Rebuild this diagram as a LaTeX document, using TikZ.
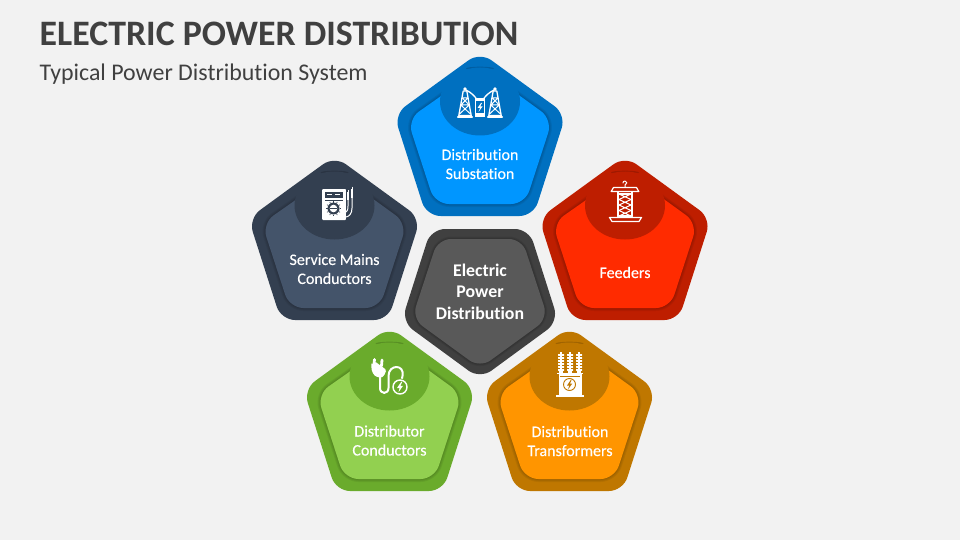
\documentclass[tikz,border=0pt]{standalone}
\usepackage{fontspec}
\setmainfont[Ligatures=NoCommon]{Carlito}
\newfontfamily\lblfont[Ligatures=NoCommon,FakeBold=0.35]{Carlito}
\definecolor{bgc}{HTML}{F2F2F2}
\definecolor{titlec}{HTML}{404040}
\definecolor{blueD}{HTML}{0070C0}\definecolor{blueL}{HTML}{0096FF}
\definecolor{navyD}{HTML}{333F50}\definecolor{navyL}{HTML}{44546A}
\definecolor{redD}{HTML}{BE1E00}\definecolor{redL}{HTML}{FF2B00}
\definecolor{greenD}{HTML}{6AAB2C}\definecolor{greenL}{HTML}{92D050}
\definecolor{orangeD}{HTML}{BF7700}\definecolor{orangeL}{HTML}{FF9500}
\definecolor{greyD}{HTML}{404040}\definecolor{greyL}{HTML}{595959}
\tikzset{
  lbl/.style={text=white,align=center,inner sep=0pt,font=\lblfont\fontsize{16}{19}\selectfont},
  ctr/.style={text=white,align=center,inner sep=0pt,font=\fontsize{17.8}{21.5}\selectfont\bfseries},
  ico/.style={white,line width=1.3pt,line join=round,line cap=round},
}
\newcommand{\petal}[4]{%
  \begin{scope}[shift={(#1,#2)}]
    \fill[#3,rounded corners=14pt] (436.5,83.5) -- (480,52) -- (566,114.5) -- (533.5,216) -- (426.5,216) -- (394,114.5) -- cycle;
    \begin{scope}
      \clip[rounded corners=14pt] (436.5,83.5) -- (480,52) -- (566,114.5) -- (533.5,216) -- (426.5,216) -- (394,114.5) -- cycle;
      \foreach \w in {6,4,2}{\draw[black,opacity=.06,line width=\w pt,rounded corners=14pt] (444,94) -- (480,67) -- (552.5,119.5) -- (525,204) -- (435,204) -- (407.5,119.5) -- cycle;}
    \end{scope}
    \fill[#4,rounded corners=14pt] (444,94) -- (480,67) -- (552.5,119.5) -- (525,204) -- (435,204) -- (407.5,119.5) -- cycle;
    \fill[black,opacity=.16] (480,68.5) ellipse [x radius=14pt,y radius=1.8pt];
    \fill[#3] (480,101.5) ellipse [x radius=40pt,y radius=34pt];
  \end{scope}}
\begin{document}
\begin{tikzpicture}[x=1pt,y=-1pt]
\useasboundingbox (0,0) rectangle (960,540);
\fill[bgc] (0,0) rectangle (960,540);

\node[anchor=west,inner sep=0pt,text=titlec,font=\fontsize{35.8}{40}\selectfont\bfseries] (title) at (39.5,34) {ELECTRIC POWER DISTRIBUTION};
\node[anchor=west,inner sep=0pt,text=titlec,font=\fontsize{23.9}{28}\selectfont] (subtitle) at (39.5,74) {Typical Power Distribution System};

\petal{0}{0}{blueD}{blueL}
\petal{-145.5}{104}{navyD}{navyL}
\petal{145}{104}{redD}{redL}
\petal{-90.5}{275}{greenD}{greenL}
\petal{89.5}{275}{orangeD}{orangeL}

% centre
\fill[greyD,rounded corners=14pt] (480,379) -- (401.5,321.5) -- (431,229) -- (529,229) -- (558.5,321.5) -- cycle;
\foreach \w in {5,3.5,2}{\draw[black,opacity=.06,line width=\w pt,rounded corners=13pt] (480,368) -- (412,318.5) -- (438,239) -- (522,239) -- (548,318.5) -- cycle;}
\fill[greyL,rounded corners=13pt] (480,368) -- (412,318.5) -- (438,239) -- (522,239) -- (548,318.5) -- cycle;

\node[lbl] (n1) at (480,164) {Distribution\\Substation};
\node[lbl] (n2) at (334.5,269) {Service Mains\\Conductors};
\node[lbl] (n3) at (625,272.5) {Feeders};
\node[lbl] (n4) at (389.5,440.5) {Distributor\\Conductors};
\node[lbl] (n5) at (570,441) {Distribution\\Transformers};
\node[ctr] (n0) at (480,291.5) {Electric\\Power\\Distribution};

% icon: substation
\begin{scope}[ico]
  \foreach \c in {465,495}{
    \begin{scope}[shift={(\c,0)}]
      \draw (-1.8,91) -- (-6.2,115.5) -- (6.2,115.5) -- (1.8,91) -- cycle;
      \draw[line width=1pt] (-2.8,98) -- (2.8,98) (-4.2,105) -- (4.2,105) (-2.8,98) -- (4.2,105) (2.8,98) -- (-4.2,105) (-4.2,105) -- (5.5,114) (4.2,105) -- (-5.5,114);
      \draw[line width=1.6pt] (-7.2,117) -- (7.2,117);
      \fill[white] (0,89) circle [radius=1.8pt];
    \end{scope}}
  \draw (466,90) .. controls (472,93) and (474,96) .. (476,98);
  \draw (494,90) .. controls (488,93) and (486,96) .. (484,98);
  \draw (475.5,99) rectangle (484.5,116.5);
  \fill[white] (475,98) rectangle (485,101.5);
  \fill[white] (475,113.5) rectangle (485,117);
  \fill[white] (481,103) -- (477.5,108) -- (480,108) -- (478.5,112) -- (482.5,106.5) -- (480.2,106.5) -- (482,103) -- cycle;
\end{scope}

% icon: multimeter
\begin{scope}
  \fill[white,rounded corners=.8pt] (322.2,189) rectangle (345.8,220);
  \fill[navyD] (325,191.5) rectangle (342.5,197.5);
  \fill[white] (327,193.8) rectangle (332,195);
  \fill[white] (335,193.8) rectangle (340,195);
  \fill[navyD] (325,199.5) rectangle (342.5,200.5);
  \fill[navyD] (333.5,208.5) circle [radius=6pt];
  \fill[white] (333.5,208.5) circle [radius=3.8pt];
  \fill[navyD] (329.7,207.6) rectangle (337.3,209.4);
  \foreach \a in {0,30,...,330}{\draw[navyD,line width=.6pt] (333.5,208.5) ++(\a:6pt) -- ++(\a:1.6pt);}
  \draw[white,line width=1pt,line cap=round] (352,198) -- (352,208) .. controls (352,214) and (349,216.5) .. (346,217);
  \draw[white,line width=1pt,line cap=round] (348,200) -- (348,206) .. controls (348,210) and (347,211.5) .. (346,212);
  \fill[white] (346.7,192) rectangle (349.3,200);
  \fill[white] (350.7,189) rectangle (353.3,198);
  \draw[white,line width=.9pt] (352,186.5) -- (352,189) (348,190) -- (348,192);
\end{scope}

% icon: feeders
\begin{scope}[ico]
  \draw[line width=1pt] (625,187.5) -- (625,185) .. controls (627.5,184.5) and (627.5,181) .. (625,181) .. controls (623.5,181) and (623,182) .. (623,183);
  \draw[line width=1.2pt] (613.5,187.5) -- (636.5,187.5) -- (638.8,191.5) -- (611.2,191.5) -- cycle;
  \draw[line width=1.2pt] (618,192) -- (618,216.5) (632,192) -- (632,216.5);
  \draw[line width=1.2pt] (618,194) -- (632,194) (618,216) -- (632,216);
  \foreach \yy in {194,199.5,205,210.5}{\draw[line width=1.05pt] (619,\yy) -- (631,\yy+5.5) (631,\yy) -- (619,\yy+5.5);}
  \draw[line width=1.2pt] (609.5,217.5) -- (641.5,217.5) -- (639,221.5) -- (612,221.5) -- cycle;
\end{scope}

% icon: plug
\begin{scope}
  \draw[white,line width=2pt,line cap=round,line join=round]
    (380,376) -- (380,388) .. controls (380,394.5) and (388.5,394.5) .. (388.5,388) -- (388.5,376)
    .. controls (388.5,364) and (405,364) .. (402.5,376) -- (401.5,381);
  \fill[white,rounded corners=1.5pt] (371.5,365) -- (375,361.5) -- (386.5,370) -- (385,373) .. controls (384,377) and (381,378) .. (378,377) .. controls (374,376) and (371,371) .. (371.5,365) -- cycle;
  \draw[white,line width=2.8pt,line cap=round] (374,364) -- (374.5,359.5);
  \draw[white,line width=2.8pt,line cap=round] (381.5,366) -- (382,360);
  \fill[greenD] (400,387) circle [radius=8.6pt];
  \draw[white,line width=1.4pt] (400,387) circle [radius=7pt];
  \fill[white] (401.3,381.7) -- (397,388) -- (399.6,388) -- (398.5,392.3) -- (403,385.8) -- (400.5,385.8) -- (402.3,381.7) -- cycle;
\end{scope}

% icon: transformer
\begin{scope}
  \foreach \c in {561,570,579}{
    \fill[white] (\c-1,351.5) rectangle (\c+1,374);
    \foreach \yy in {354,357,360,363,366,369}{\fill[white,rounded corners=.4pt] (\c-3,\yy) rectangle (\c+3,\yy+1.9);}
    \fill[white] (\c-2.3,371) rectangle (\c+2.3,374);
  }
  \fill[white] (558.5,373.5) rectangle (581.5,395);
  \draw[white,line width=1pt] (557,373.8) -- (583,373.8);
  \fill[orangeD] (560,375.5) rectangle (580,376);
  \fill[white] (556,394.5) rectangle (584,396.5);
  \draw[orangeD,line width=.9pt] (569.5,384.5) circle [radius=6pt];
  \fill[orangeD] (571,379.5) -- (567,385.5) -- (569.3,385.5) -- (568,389.5) -- (572.3,383.5) -- (570,383.5) -- (571.8,379.5) -- cycle;
\end{scope}
\end{tikzpicture}
\end{document}
